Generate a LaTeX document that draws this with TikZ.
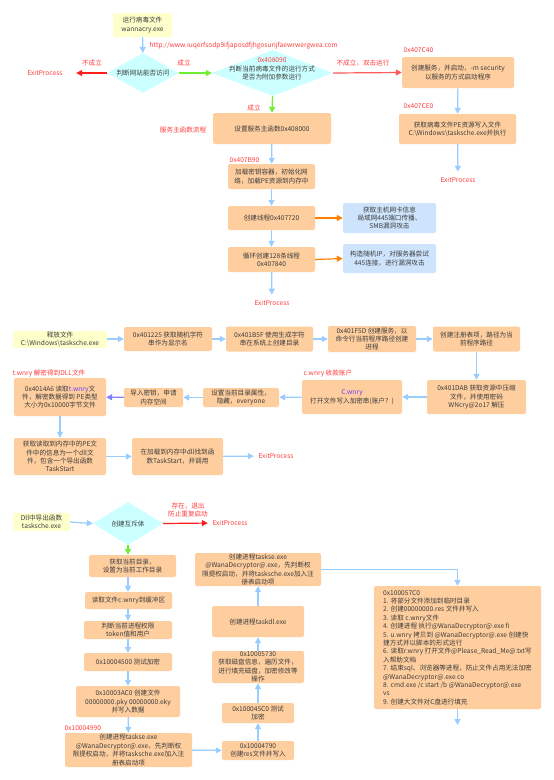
\documentclass[tikz,border=0pt]{standalone}
\usepackage{fontspec}
\setmainfont{Noto Sans CJK SC}
\usetikzlibrary{arrows.meta,shapes.geometric}
\definecolor{boxor}{RGB}{255,206,158}
\definecolor{boxbl}{RGB}{206,228,252}
\definecolor{boxye}{RGB}{255,255,204}
\definecolor{dia}{RGB}{204,255,255}
\definecolor{abl}{RGB}{153,204,255}
\definecolor{ared}{RGB}{255,30,30}
\definecolor{ared2}{RGB}{255,90,90}
\definecolor{tred}{RGB}{255,60,60}
\definecolor{agrn}{RGB}{110,240,50}
\definecolor{aorg}{RGB}{255,128,0}
\definecolor{tpur}{RGB}{102,60,255}
\definecolor{apur}{RGB}{130,130,255}
\definecolor{txt}{RGB}{60,60,60}
\begin{document}
\begin{tikzpicture}[x=1pt,y=-1pt,
  every node/.style={font=\fontsize{6.6}{8.4}\selectfont, text=txt, inner sep=0.5pt},
  ob/.style={fill=boxor, rounded corners=2pt, align=center},
  bb/.style={fill=boxbl, rounded corners=2pt, align=center},
  yb/.style={fill=boxye, align=center},
  dm/.style={diamond, fill=dia, inner sep=0pt},
  rl/.style={text=tred, align=center},
  tipa/.style={-{Triangle[length=6pt,width=6pt]}},
  ab/.style={draw=abl, line width=1.2pt, tipa},
  ar/.style={draw=ared, line width=1.2pt, tipa},
  ar2/.style={draw=ared2, line width=1.2pt, tipa},
  ag/.style={draw=agrn, line width=1.2pt, tipa},
  ao/.style={draw=aorg, line width=1.2pt, tipa},
  ap/.style={draw=apur, line width=1.2pt, tipa}
]
\useasboundingbox[fill=white] (0,0) rectangle (554,780);

% ---------- Section 1 ----------
\node[yb, minimum width=59pt, minimum height=24pt] (s1) at (142.5,25) {运行病毒文件\\wannacry.exe};
\node[text=tred, anchor=west] (url) at (149,46) {http://www.iuqerfsodp9ifjaposdfjhgosurijfaewrwergwea.com};
\node[dm, minimum width=71pt, minimum height=40pt] (d1) at (143,73) {};
\node (t1) at (143,73) {判断网站能否访问};
\node[rl] (ex1) at (45,73) {ExitProcess};
\node[rl] (l1) at (92,63) {不成立};
\node[rl] (l2) at (184,63) {成立};
\node[dm, minimum width=121pt, minimum height=46pt] (d2) at (272.5,73) {};
\node[align=center] (t2) at (272,69) {{\color{tred}0x408090}\\判断当前病毒文件的运行方式\\是否为附加参数运行};
\node[rl] (l3) at (363,63) {不成立，双击运行};
\node[ob, minimum width=112pt, minimum height=31pt] (b1) at (458,72.5) {创建服务，并启动，-m security\\以服务的方式启动程序};
\node[rl, anchor=west] (lb1) at (403,50) {0x407C40};
\node[ob, minimum width=117pt, minimum height=30pt] (b2) at (457.5,129) {获取病毒文件PE资源写入文件\\C:\textbackslash Windows\textbackslash tasksche.exe并执行};
\node[rl, anchor=west] (lb2) at (403,106) {0x407CE0};
\node[rl] (ex2) at (458,180) {ExitProcess};
\node[rl] (l4) at (254,108) {成立};
\node[ob, minimum width=118pt, minimum height=31pt] (b3) at (272,128.5) {设置服务主函数0x408000};
\node[rl] (lb3) at (183,130) {服务主函数流程};
\node[rl, anchor=west] (lb4) at (229,160) {0x407B90};
\node[ob, minimum width=87pt, minimum height=25pt] (b4) at (271.5,176.5) {加载密钥容器，初始化网\\络，加载PE资源到内存中};
\node[ob, minimum width=87pt, minimum height=24pt] (b5) at (271.5,218) {创建线程0x407720};
\node[bb, minimum width=93pt, minimum height=30pt] (c1) at (389.5,218) {获取主机网卡信息\\局域网445端口传播、\\SMB漏洞攻击};
\node[ob, minimum width=87pt, minimum height=25pt] (b6) at (271.5,259.5) {循环创建128条线程\\0x407840};
\node[bb, minimum width=93pt, minimum height=29pt] (c2) at (389.5,258.5) {构造随机IP，对服务器尝试\\445连接，进行漏洞攻击};
\node[rl] (ex3) at (272,303) {ExitProcess};

\draw[ab] (s1) -- (d1);
\draw[ar] (d1.west) -- (ex1.east) [shorten >=13pt];
\draw[ag] (d1.east) -- (d2.west);
\draw[ar2] (d2.east) -- (b1.west);
\draw[ab] (b1) -- (b2);
\draw[ab, shorten >=5pt] (b2) -- (ex2);
\draw[ag] (d2.south) -- (b3.north);
\draw[ab] (b3) -- (b4);
\draw[ab] (b4) -- (b5);
\draw[ao] (b5) -- (c1);
\draw[ab] (b5) -- (b6);
\draw[ao] (b6.east) -- (c2.west);
\draw[ab, shorten >=5pt] (b6) -- (ex3);

% ---------- Section 2 ----------
\node[yb, minimum width=94pt, minimum height=17pt] (s2) at (60,339) {释放文件\\C:\textbackslash Windows\textbackslash tasksche.exe};
\node[ob, minimum width=88pt, minimum height=24pt] (b7) at (168,339) {0x401225 获取随机字符\\串作为显示名};
\node[ob, minimum width=87pt, minimum height=25pt] (b8) at (269.5,339) {0x401B5F 使用生成字符\\串在系统上创建目录};
\node[ob, minimum width=88pt, minimum height=26pt] (b9) at (372,339) {0x401F5D 创建服务，以\\命令行当前程序路径创建\\进程};
\node[ob, minimum width=87pt, minimum height=25pt] (b10) at (476.5,339) {创建注册表项，路径为当\\前程序路径};
\node[ob, minimum width=99pt, minimum height=34pt] (b11) at (476.5,397) {0x401DAB 获取资源中压缩\\文件，并使用密码\\WNcry@2o17 解压};
\node[ob, minimum width=100pt, minimum height=34pt] (b12) at (352,397) {{\color{tpur}C.wnry}\\打开文件写入加密串(账户？)};
\node[rl, anchor=west] (lb5) at (303,373) {c.wnry 收款账户};
\node[ob, minimum width=76pt, minimum height=19pt] (b13) at (241,397.5) {设置当前目录属性，\\隐藏，everyone};
\node[ob, minimum width=59pt, minimum height=19pt] (b14) at (153.5,397.5) {导入密钥，申请\\内存空间};
\node[ob, minimum width=92pt, minimum height=38pt] (b15) at (60,397) {0x4014A6 读取{\color{tpur}t.wnry}文\\件，解密数据得到 PE类型\\大小为0x10000字节文件};
\node[rl, anchor=west] (lb6) at (12,373) {t.wnry 解密得到DLL文件};
\node[ob, minimum width=92pt, minimum height=37pt] (b16) at (60,456.5) {获取读取到内存中的PE文\\件中的信息为一个dll文\\件，包含一个导出函数\\TaskStart};
\node[ob, minimum width=91pt, minimum height=37pt] (b17) at (177.5,456.5) {在加载到内存中dll找到函\\数TaskStart，并调用};
\node[rl] (ex4) at (276,456) {ExitProcess};

\draw[ab] (s2) -- (b7);
\draw[ab] (b7) -- (b8);
\draw[ab] (b8) -- (b9);
\draw[ab] (b9) -- (b10);
\draw[ab] (b10) -- (b11);
\draw[ab] (b11) -- (b12);
\draw[ab] (b12) -- (b13);
\draw[ab] (b13) -- (b14);
\draw[ap] (b14) -- (b15);
\draw[ab] (b15) -- (b16);
\draw[ab] (b16) -- (b17);
\draw[ab, shorten >=4pt] (b17) -- (ex4);

% ---------- Section 3 ----------
\node[yb, minimum width=57pt, minimum height=18pt] (s3) at (41.5,522) {Dll中导出函数\\tasksche.exe};
\node[dm, minimum width=70pt, minimum height=43pt] (d3) at (128,523.5) {};
\node (t3) at (128,523.5) {创建互斥体};
\node[rl] (l5) at (188,510) {存在，退出\\防止重复启动};
\node[rl] (ex5) at (230,523) {ExitProcess};
\node[ob, minimum width=87pt, minimum height=22pt] (b18) at (132.5,566) {获取当前目录，\\设置为当前工作目录};
\node[ob, minimum width=87pt, minimum height=17pt] (b19) at (128.5,600.5) {读取文件c.wnry到缓冲区};
\node[ob, minimum width=88pt, minimum height=18pt] (b20) at (128,630) {判断当前进程权限\\token值和用户};
\node[ob, minimum width=88pt, minimum height=18pt] (b21) at (128,662) {0x10004500 测试加密};
\node[ob, minimum width=104pt, minimum height=31pt] (b22) at (128,701.5) {0x10003AC0 创建文件\\00000000.pky 00000000.eky\\并写入数据};
\node[rl, anchor=west] (lb7) at (64,728) {0x10004990};
\node[ob, minimum width=127pt, minimum height=34pt] (b23) at (128.5,750) {创建进程taskse.exe\\@WanaDecryptor@.exe，先判断权\\限提权启动，并将tasksche.exe加入注\\册表启动项};
\node[ob, minimum width=72pt, minimum height=19pt] (b24) at (258,750.5) {0x10004790\\创建res文件并写入};
\node[ob, minimum width=72pt, minimum height=20pt] (b25) at (258,713) {0x100045C0 测试\\加密};
\node[ob, minimum width=92pt, minimum height=32pt] (b26) at (258,667) {0x10005730\\获取磁盘信息，遍历文件，\\进行填充磁盘，加密修改等\\操作};
\node[ob, minimum width=92pt, minimum height=31pt] (b27) at (258,621.5) {创建进程taskdl.exe};
\node[ob, minimum width=126pt, minimum height=33pt] (b28) at (258,569.5) {创建进程taskse.exe\\@WanaDecryptor@.exe，先判断权\\限提权启动，并将tasksche.exe加入注\\册表启动项};
\node[ob, minimum width=167pt, minimum height=123pt, align=left] (b29) at (457.5,647.5) {0x100057C0\\1. 将部分文件添加到临时目录\\2. 创建00000000.res 文件并写入\\3. 读取 c.wnry文件\\4. 创建进程 执行@WanaDecryptor@.exe fi\\5. u.wnry 拷贝到 @WanaDecryptor@.exe 创建快\\捷方式并以脚本的形式运行\\6. 读取r.wnry 打开文件@Please\_Read\_Me@.txt写\\入帮助文档\\7. 结束sql、浏览器等进程，防止文件占用无法加密\\@WanaDecryptor@.exe co\\8. cmd.exe /c start /b @WanaDecryptor@.exe\\vs\\9. 创建大文件对C盘进行填充};
\coordinate (e29) at (457.5,725);

\draw[ab] (s3.east) -- (d3.west);
\draw[ar, shorten >=4pt] (d3.east) -- (ex5.west);
\draw[ag] (d3.south) -- (d3.south |- b18.north);
\draw[ab] (d3.south |- b18.south) -- (d3.south |- b19.north);
\draw[ab] (d3.south |- b19.south) -- (d3.south |- b20.north);
\draw[ab] (b20) -- (b21);
\draw[ab] (b21) -- (b22);
\draw[ab] (b22) -- (b23);
\draw[ab] (b23) -- (b24);
\draw[ab] (b24) -- (b25);
\draw[ab] (b25) -- (b26);
\draw[ab] (b26) -- (b27);
\draw[ab] (b27) -- (b28);
\draw[ab] (b28.east) -| (b29.north);
\draw[ab] (b29.south) -- (e29);
\end{tikzpicture}
\end{document}
